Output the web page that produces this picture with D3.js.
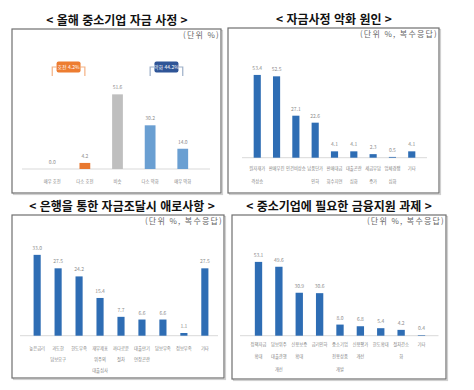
<!DOCTYPE html>
<html lang="ko">
<head>
<meta charset="utf-8">
<script src="https://d3js.org/d3.v7.min.js"></script>
<title>중소기업 자금사정</title>
<style>
  body { margin: 0; background: #fff; }
  text { font-family: "Noto Sans CJK KR", "Noto Sans", sans-serif; }
</style>
</head>
<body>
<div id="chart"></div>
<script>
// panel 1
const cat1 = ["매우 호전", "다소 호전", "비슷", "다소 악화", "매우 악화"];
const val1 = [0.0, 4.2, 51.6, 30.2, 14.0];
const col1 = ["#e8782f", "#e8782f", "#bfbfbf", "#6a9fd2", "#6a9fd2"];

// panel 2
const cat2 = ["원자재가\n격상승", "판매부진", "인건비상승", "납품단가\n인하", "판매대금\n회수지연",
              "대출곤란\n심화", "세금부담\n증가", "업체경쟁\n심화", "기타"];
const val2 = [53.4, 52.5, 27.1, 22.6, 4.1, 4.1, 2.3, 0.5, 4.1];

// panel 3
const cat3 = ["높은금리", "과도한\n담보요구", "한도부족", "재무제표\n위주의\n대출심사", "까다로운\n절차",
              "대출만기\n연장곤란", "담보부족", "정보부족", "기타"];
const val3 = [33.0, 27.5, 24.2, 15.4, 7.7, 6.6, 6.6, 1.1, 27.5];

// panel 4
const cat4 = ["정책자금\n확대", "담보위주\n대출관행\n개선", "신용보증\n확대", "금리인하", "중소기업\n전용상품\n개발",
              "신용평가\n개선", "한도확대", "절차간소\n화", "기타"];
const val4 = [53.1, 49.6, 30.9, 30.6, 8.0, 6.8, 5.4, 4.2, 0.4];

const svg = d3.select("#chart").append("svg")
    .attr("width", 474).attr("height", 390);
svg.append("rect").attr("width", 474).attr("height", 390).attr("fill", "#fff");

function drawPanel(p) {
    const g = svg.append("g");
    // frame with a soft shadow
    g.append("rect")
        .attr("x", p.frame[0] + 1.5).attr("y", p.frame[1] + 1.5)
        .attr("width", p.frame[2] - p.frame[0]).attr("height", p.frame[3] - p.frame[1])
        .attr("fill", "none").attr("stroke", "#d0d0d0").attr("stroke-width", 1.2);
    g.append("rect")
        .attr("x", p.frame[0]).attr("y", p.frame[1])
        .attr("width", p.frame[2] - p.frame[0]).attr("height", p.frame[3] - p.frame[1])
        .attr("fill", "#fff").attr("stroke", "#6f6f6f").attr("stroke-width", 1.2);

    g.append("text")
        .attr("x", p.titleX).attr("y", p.frame[1] - 4)
        .attr("text-anchor", "middle")
        .attr("font-size", 12).attr("font-weight", 700).attr("fill", "#111")
        .text(p.title);

    g.append("text")
        .attr("x", p.frame[2] - 1).attr("y", p.frame[1] + 9)
        .attr("text-anchor", "end")
        .attr("font-size", 8).attr("letter-spacing", 1.2).attr("fill", "#666")
        .text(p.unit);

    const x = d3.scaleBand().domain(p.cats).range(p.xr).padding(p.pad);
    const y = d3.scaleLinear().domain([0, p.ymax]).range([p.base, p.base - p.yh]);

    const axis = g.append("g")
        .attr("transform", `translate(0,${p.base})`)
        .call(d3.axisBottom(x).tickSize(0).tickFormat(""));
    axis.select(".domain").attr("stroke", "#d9d9d9").attr("d", `M${p.axisX[0]},0H${p.axisX[1]}`);

    g.selectAll("rect.bar").data(p.vals).enter().append("rect")
        .attr("class", "bar")
        .attr("x", (d, i) => x(p.cats[i]))
        .attr("width", x.bandwidth())
        .attr("y", d => y(d))
        .attr("height", d => p.base - y(d))
        .attr("fill", (d, i) => p.colors ? p.colors[i] : "#2e6db4");

    g.selectAll("text.val").data(p.vals).enter().append("text")
        .attr("class", "val")
        .attr("x", (d, i) => x(p.cats[i]) + x.bandwidth() / 2)
        .attr("y", d => y(d) - 5)
        .attr("text-anchor", "middle")
        .attr("font-size", 5).attr("fill", "#8c8c8c")
        .text(d => d.toFixed(1));

    const lbl = g.selectAll("text.cat").data(p.cats).enter().append("text")
        .attr("class", "cat")
        .attr("text-anchor", "middle")
        .attr("font-size", 4.3).attr("fill", "#7f7f7f");
    lbl.each(function(d) {
        const t = d3.select(this);
        d.split("\n").forEach((line, k) => {
            t.append("tspan")
                .attr("x", x(d) + x.bandwidth() / 2)
                .attr("y", p.base + p.lab0 + k * p.lh)
                .text(line);
        });
    });
    return {g, x, y};
}

const p1 = drawPanel({
    frame: [12, 29, 221, 193], titleX: 117, title: "< 올해 중소기업 자금 사정 >", unit: "(단위 %)",
    cats: cat1, vals: val1, colors: col1, xr: [25, 210], pad: 0.67, axisX: [22, 210],
    base: 169, ymax: 60, yh: 86.8, lab0: 14, lh: 12
});

// brackets for 호전 / 악화
function bracket(g, x, a, b, yTop, lineCol, boxCol, label) {
    const x0 = x(a) + x.bandwidth() / 2, x1 = x(b) + x.bandwidth() / 2;
    const cx = (x0 + x1) / 2, bw = 24, bh = 11;
    g.append("path")
        .attr("d", `M${x0},${yTop + 9}V${yTop}H${cx - bw / 2}M${cx + bw / 2},${yTop}H${x1}V${yTop + 9}`)
        .attr("fill", "none").attr("stroke", lineCol).attr("stroke-width", 1.2);
    g.append("rect")
        .attr("x", cx - bw / 2).attr("y", yTop - bh / 2)
        .attr("width", bw).attr("height", bh).attr("rx", 2)
        .attr("fill", boxCol);
    g.append("text")
        .attr("x", cx).attr("y", yTop + 2)
        .attr("text-anchor", "middle").attr("font-size", 5).attr("fill", "#fff")
        .text(label);
}
bracket(p1.g, p1.x, cat1[0], cat1[1], 67, "#f4b183", "#ed7d31", "호전 4.2%");
bracket(p1.g, p1.x, cat1[3], cat1[4], 67, "#9dafc8", "#2f5597", "악화 44.2%");

drawPanel({
    frame: [228, 28, 439, 193], titleX: 334, title: "< 자금사정 악화 원인 >", unit: "(단위 %, 복수응답)",
    cats: cat2, vals: val2, xr: [241.5, 427.5], pad: 0.63, axisX: [242, 427],
    base: 157.7, ymax: 60, yh: 93, lab0: 12, lh: 13.5
});

drawPanel({
    frame: [12, 215, 224, 378], titleX: 122, title: "< 은행을 통한 자금조달시 애로사항 >", unit: "(단위 %, 복수응답)",
    cats: cat3, vals: val3, xr: [19.75, 222.25], pad: 0.66, axisX: [20, 218],
    base: 335.7, ymax: 40, yh: 98, lab0: 14, lh: 11
});

drawPanel({
    frame: [232, 215, 446, 379], titleX: 339, title: "< 중소기업에 필요한 금융지원 과제 >", unit: "(단위 %, 복수응답)",
    cats: cat4, vals: val4, xr: [241.8, 438.2], pad: 0.64, axisX: [240, 438.5],
    base: 335.7, ymax: 60, yh: 83.4, lab0: 10, lh: 12.7
});
</script>
</body>
</html>
